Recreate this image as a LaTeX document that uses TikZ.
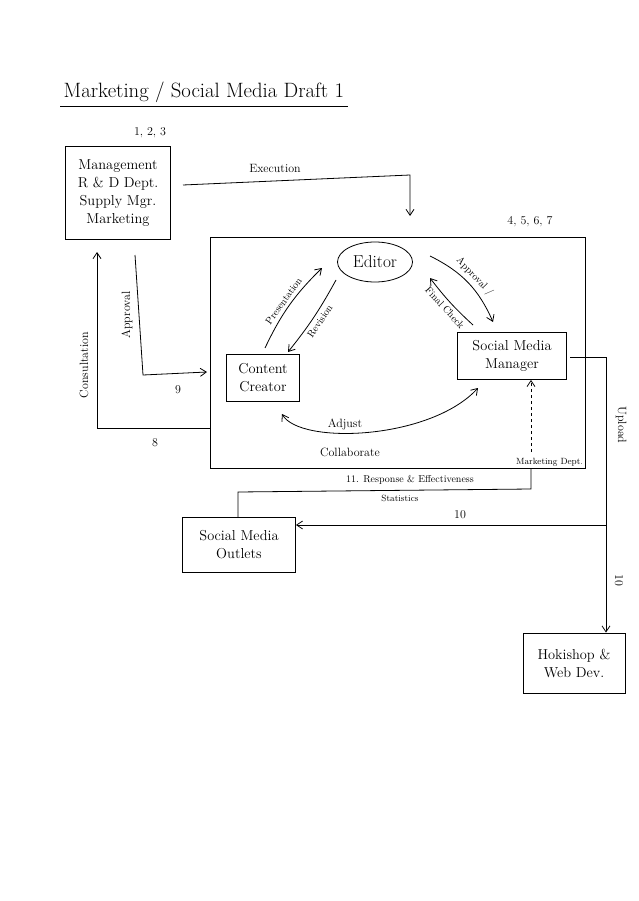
\documentclass[tikz,border=0pt]{standalone}
\usetikzlibrary{arrows.meta,shapes.geometric}
\begin{document}
\begin{tikzpicture}[x=1pt,y=-1pt,line width=0.8pt,
  box/.style={draw,align=center,font=\Large,inner sep=2pt},
  lbl/.style={font=\large},
  arr/.style={-{Straight Barb[length=6pt,width=8pt]}}]
\useasboundingbox[fill=white] (0,0) rectangle (638,901);
\node[font=\huge,anchor=west] (title) at (60,92) {Marketing / Social Media Draft 1};
\draw (title.south west) -- (title.south east);
\node[box,minimum width=105pt,minimum height=93pt] (mg) at (118,193) {Management\\R \& D Dept.\\Supply Mgr.\\Marketing};
\node[lbl] (n123) at (150,133) {1, 2, 3};
\node[draw,minimum width=375pt,minimum height=231pt] (big) at (397.5,352.5) {};
\node[lbl] (n47) at (530,222) {4, 5, 6, 7};
\node[font=\small,anchor=south east,inner sep=2pt] (md) at (big.south east) {Marketing Dept.};
\node[draw,ellipse,minimum width=75pt,minimum height=40pt,font=\LARGE,inner sep=1pt] (ed) at (375,262) {Editor};
\node[box,minimum width=73pt,minimum height=47pt] (cc) at (263,378) {Content\\Creator};
\node[box,minimum width=109pt,minimum height=47pt] (smm) at (512,356) {Social Media\\Manager};
\node[box,minimum width=113pt,minimum height=55pt] (smo) at (239,545) {Social Media\\Outlets};
\node[box,minimum width=102pt,minimum height=60pt] (hk) at (574,663) {Hokishop \&\\Web Dev.};
% execution
\coordinate (e1) at (183,185); \coordinate (e2) at (410,175); \coordinate (e3) at (410,216);
\draw[arr] (e1) -- (e2) -- (e3);
\node[lbl] at (275,168) {Execution};
% editor loop
\coordinate (p1) at (265,348); \coordinate (p2) at (322,268);
\draw[arr] (p1) to[bend left=10] node[sloped,above,font=\normalsize]{Presentation} (p2);
\coordinate (r1) at (336,280); \coordinate (r2) at (288,352);
\draw[arr] (r1) to[bend left=5] node[sloped,below,font=\normalsize]{Revision} (r2);
\coordinate (a1) at (430,256); \coordinate (a2) at (493,322);
\draw[arr] (a1) to[bend left=20] node[sloped,above,font=\normalsize]{Approval /} (a2);
\coordinate (f1) at (473,325); \coordinate (f2) at (430,278);
\draw[arr] (f1) to[bend left=5] node[sloped,below,font=\normalsize]{Final Check} (f2);
\coordinate (c1) at (478,388); \coordinate (c2) at (282,414);
\draw[{Straight Barb[length=6pt,width=8pt]}-{Straight Barb[length=6pt,width=8pt]}] (c1) .. controls (430,440) and (300,445) .. (c2);
\node[lbl] at (345,424) {Adjust};
\node[lbl] at (350,452) {Collaborate};
% dashed
\coordinate (d1) at (531,452);
\draw[arr,dashed] (d1) -- (smm.south -| d1);
% approval 9
\coordinate (ap1) at (135,255); \coordinate (ap2) at (143,375); \coordinate (ap3) at (207,372);
\draw[arr] (ap1) -- (ap2) -- (ap3);
\node[lbl,rotate=90] at (127,315) {Approval};
\node[lbl] at (178,390) {9};
% consultation 8
\coordinate (k1) at (210,428); \coordinate (k2) at (97,428); \coordinate (k3) at (97,252);
\draw[arr] (k1) -- (k2) -- (k3);
\node[lbl,rotate=90] at (84,365) {Consultation};
\node[lbl] at (155,443) {8};
% upload
\coordinate (u1) at (570,357); \coordinate (u2) at (606,357);
\draw[arr] (u1) -- (u2) -- (hk.north -| u2);
\node[lbl,rotate=-90] at (621,425) {Upload};
\node[lbl,rotate=-90] at (619,580) {10};
% 10
\coordinate (t1) at (606,525);
\draw[arr] (t1) -- (smo.east |- t1);
\node[lbl] at (460,515) {10};
% 11
\coordinate (s1) at (531,468); \coordinate (s2) at (531,489); \coordinate (s3) at (238,492);
\draw (s1) -- (s2) -- (s3) -- (smo.north -| s3);
\node[font=\normalsize] at (410,480) {11. Response \& Effectiveness};
\node[font=\small] at (400,498) {Statistics};
\end{tikzpicture}
\end{document}
